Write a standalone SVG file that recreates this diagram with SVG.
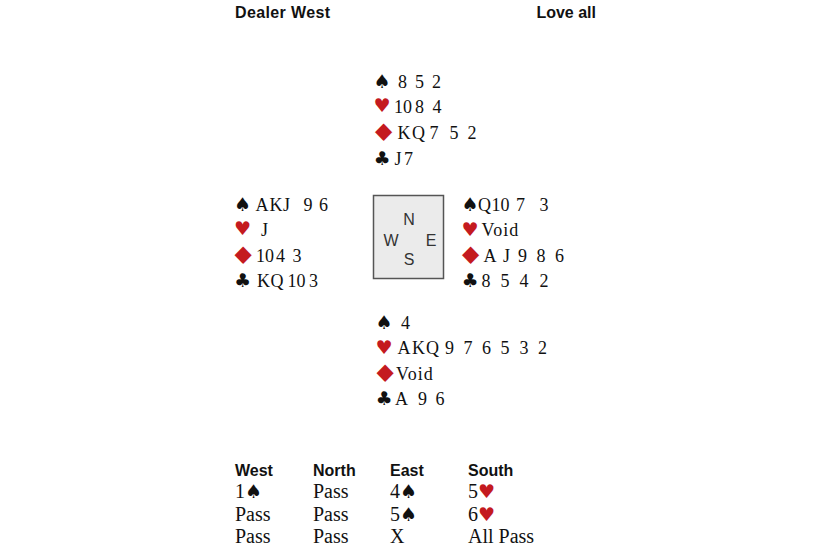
<svg xmlns="http://www.w3.org/2000/svg" width="830" height="550" viewBox="0 0 830 550">
<style>
.hd{font-family:"Liberation Sans",Arial,sans-serif;font-weight:bold;font-size:16px;fill:#111}
.c{font-family:"Liberation Serif","Times New Roman",serif;font-size:18px;fill:#111}
.s{font-family:"DejaVu Sans",sans-serif;font-size:19px;fill:#111}
.d{font-family:"DejaVu Sans",sans-serif;font-size:24px}
.r{fill:#c41a1f}
.bid{font-family:"Liberation Serif","Times New Roman",serif;font-size:20px;fill:#111}
.bs{font-family:"DejaVu Sans",sans-serif;font-size:19px}
.cmp{font-family:"Liberation Sans",Arial,sans-serif;font-size:16px;fill:#333;text-anchor:middle}
.void{letter-spacing:1px}
</style>
<rect width="830" height="550" fill="#fff"/>
<g id="title">
<text class="hd" x="235" y="18" textLength="95">Dealer West</text>
<text class="hd" x="596" y="18" text-anchor="end">Love all</text>
</g>
<g id="north">
<text class="s" x="373.5" y="88">♠</text>
<text class="s r" x="373.5" y="112">♥</text>
<text class="d r" transform="translate(370 141) scale(1.27 1)">♦</text>
<text class="s" x="373.5" y="164.5">♣</text>
<text class="c" y="88"><tspan x="398">8</tspan><tspan x="415">5</tspan><tspan x="432">2</tspan></text>
<text class="c" y="112.5"><tspan x="394">10</tspan><tspan x="415">8</tspan><tspan x="432.5">4</tspan></text>
<text class="c" y="139"><tspan x="397.5">K</tspan><tspan x="412">Q</tspan><tspan x="429.5">7</tspan><tspan x="449.5">5</tspan><tspan x="467.5">2</tspan></text>
<text class="c" y="164.5"><tspan x="394.5">J</tspan><tspan x="404">7</tspan></text>
</g>
<g id="west">
<text class="s" x="234" y="211">♠</text>
<text class="s r" x="234" y="235">♥</text>
<text class="d r" transform="translate(229.5 264) scale(1.27 1)">♦</text>
<text class="s" x="234" y="287">♣</text>
<text class="c" y="211"><tspan x="255.5">A</tspan><tspan x="269.5">K</tspan><tspan x="283">J</tspan><tspan x="303.5">9</tspan><tspan x="319">6</tspan></text>
<text class="c" y="236"><tspan x="261">J</tspan></text>
<text class="c" y="262"><tspan x="256">10</tspan><tspan x="276">4</tspan><tspan x="292.5">3</tspan></text>
<text class="c" y="287"><tspan x="257">K</tspan><tspan x="270.5">Q</tspan><tspan x="287.5">10</tspan><tspan x="309">3</tspan></text>
</g>
<g id="compass">
<rect x="373.5" y="195.5" width="70" height="83" fill="#ebebeb" stroke="#555" stroke-width="1.5"/>
<text class="cmp" x="409" y="225">N</text>
<text class="cmp" x="391" y="246">W</text>
<text class="cmp" x="431" y="246">E</text>
<text class="cmp" x="409" y="265">S</text>
</g>
<g id="east">
<text class="s" x="461.5" y="211">♠</text>
<text class="s r" x="461.5" y="236">♥</text>
<text class="d r" transform="translate(457 264) scale(1.27 1)">♦</text>
<text class="s" x="461.5" y="287">♣</text>
<text class="c" y="211"><tspan x="478">Q</tspan><tspan x="491.5">10</tspan><tspan x="516">7</tspan><tspan x="539.5">3</tspan></text>
<text class="c void" x="481.5" y="236">Void</text>
<text class="c" y="262"><tspan x="483.5">A</tspan><tspan x="503">J</tspan><tspan x="518">9</tspan><tspan x="536.5">8</tspan><tspan x="555">6</tspan></text>
<text class="c" y="287"><tspan x="481.5">8</tspan><tspan x="500.5">5</tspan><tspan x="519.5">4</tspan><tspan x="539.5">2</tspan></text>
</g>
<g id="south">
<text class="s" x="375.5" y="329">♠</text>
<text class="s r" x="375.5" y="353.5">♥</text>
<text class="d r" transform="translate(371.5 381.5) scale(1.27 1)">♦</text>
<text class="s" x="375.5" y="405">♣</text>
<text class="c" y="329"><tspan x="401">4</tspan></text>
<text class="c" y="353.5"><tspan x="397.5">A</tspan><tspan x="412">K</tspan><tspan x="426">Q</tspan><tspan x="445">9</tspan><tspan x="463.5">7</tspan><tspan x="482">6</tspan><tspan x="500.5">5</tspan><tspan x="519.5">3</tspan><tspan x="538">2</tspan></text>
<text class="c void" x="396" y="379.5">Void</text>
<text class="c" y="405"><tspan x="395">A</tspan><tspan x="418">9</tspan><tspan x="435.5">6</tspan></text>
</g>
<g id="connectors"/>
<g id="bidding">
<text class="hd" x="235" y="475.5">West</text>
<text class="hd" x="313" y="475.5">North</text>
<text class="hd" x="390" y="475.5">East</text>
<text class="hd" x="468" y="475.5">South</text>
<text class="bid" x="235" y="498">1<tspan class="bs">♠</tspan></text>
<text class="bid" x="313" y="498">Pass</text>
<text class="bid" x="390" y="498">4<tspan class="bs">♠</tspan></text>
<text class="bid" x="468" y="498">5<tspan class="bs r">♥</tspan></text>
<text class="bid" x="235" y="520.5">Pass</text>
<text class="bid" x="313" y="520.5">Pass</text>
<text class="bid" x="390" y="520.5">5<tspan class="bs">♠</tspan></text>
<text class="bid" x="468" y="520.5">6<tspan class="bs r">♥</tspan></text>
<text class="bid" x="235" y="543">Pass</text>
<text class="bid" x="313" y="543">Pass</text>
<text class="bid" x="390" y="543">X</text>
<text class="bid" x="468" y="543">All Pass</text>
</g>
</svg>
